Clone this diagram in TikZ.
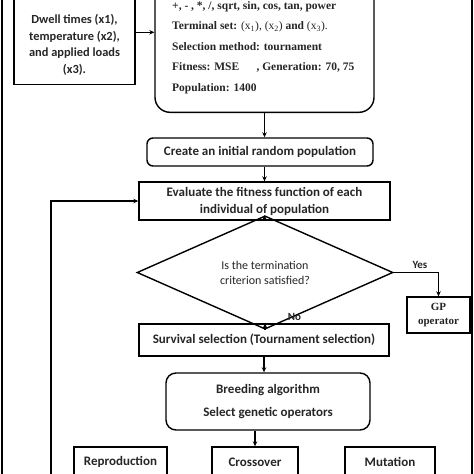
\documentclass[tikz,border=0pt]{standalone}
\usepackage{fontspec}
\setmainfont{Liberation Serif}
\newfontfamily\calfont{Carlito}
\usetikzlibrary{shapes.geometric,arrows.meta}
\begin{document}
\begin{tikzpicture}[x=1pt,y=-1pt,
  every node/.style={text=black!85},
  box/.style={draw=black, line width=1.4pt, inner sep=0pt, align=center,
    font=\calfont\bfseries\fontsize{13}{17}\selectfont},
  rbox/.style={box, rounded corners=6pt},
  sbox/.style={box, font=\bfseries\fontsize{11}{14.5}\selectfont},
  txt/.style={inner sep=0pt, align=center, font=\calfont\bfseries\fontsize{12.4}{16.5}\selectfont},
  arr/.style={draw=black, line width=1.2pt, -{Stealth[length=5pt,width=4.5pt]}},
  lbl/.style={inner sep=0pt, font=\calfont\bfseries\fontsize{11}{13}\selectfont}]
\useasboundingbox (0,0) rectangle (474,474);
\clip (0,0) rectangle (474,474);
\fill[white] (0,0) rectangle (474,474);
% outer frame
\draw[line width=2.5pt] (2,-20) rectangle (472,500);
% input box
\node[box, minimum width=121pt, minimum height=150pt, anchor=south] (dwell) at (74.5,85) {};
\node[txt] (dwelltxt) at (74.5,45) {Dwell times (x1),\\temperature (x2),\\and applied loads\\(x3).};
% parameter box
\node[box, rounded corners=15pt, minimum width=219pt, minimum height=160pt, anchor=south] (big) at (264.5,113) {};
\node[anchor=north west, align=left, inner sep=0pt, font=\bfseries\fontsize{11.5}{20.5}\selectfont] (bigtxt) at (172,1)
  {+, - , *, /, sqrt, sin, cos, tan, power\\
   Terminal set: {\mdseries (x\textsubscript{1}), (x\textsubscript{2})} and {\mdseries (x\textsubscript{3}).}\\
   Selection method: tournament\\
   Fitness: MSE \quad\ , Generation: 70, 75\\
   Population: 1400};
% flow boxes
\node[rbox, minimum width=226pt, minimum height=28pt] (create) at (260,152) {Create an initial random population};
\node[box, minimum width=251pt, minimum height=38pt] (eval) at (264.5,201) {Evaluate the fitness function of each\\individual of population};
\node[draw=black, line width=1.4pt, shape=diamond, minimum width=256pt, minimum height=71pt, inner sep=0pt,
  align=center, font=\calfont\fontsize{12}{15}\selectfont] (dec) at (265,272.5) {Is the termination\\criterion satisfied?};
\node[sbox, minimum width=63pt, minimum height=36pt] (gp) at (438.5,315) {GP\\operator};
\node[box, minimum width=250pt, minimum height=32pt] (surv) at (264,340) {Survival selection (Tournament selection)};
\node[box, rounded corners=10pt, minimum width=204pt, minimum height=57pt, font=\calfont\bfseries\fontsize{13}{23.5}\selectfont] (breed) at (268,401.5) {Breeding algorithm\\Select genetic operators};
\node[box, minimum width=93pt, minimum height=30pt] (repro) at (120.5,462) {Reproduction};
\node[box, minimum width=86pt, minimum height=30pt] (cross) at (255,462) {Crossover};
\node[box, minimum width=90pt, minimum height=30pt] (mut) at (390,462) {Mutation};
% labels
\node[lbl] (nolbl) at (294.5,317) {No};
\node[lbl] (yeslbl) at (420,265) {Yes};
% connectors
\draw[arr] (dwell.east |- big.west) -- (big.west);
\draw[arr] (big.south) -- (big.south |- create.north);
\draw[arr] (big.south |- create.south) -- (big.south |- eval.north);
\draw[arr] (eval.south) -- (eval.south |- dec.north);
\draw[arr] (dec.south) -- (dec.south |- surv.north);
\draw[arr] (dec.east) -- (gp.north |- dec.east) -- (gp.north);
\draw[arr] (surv.south) -- (surv.south |- breed.north);
\draw[arr] (breed.south -| cross.north) -- (cross.north);
\coordinate (loop) at (51,500);
\draw[arr] (loop) -- (loop |- eval.west) -- (eval.west);
\end{tikzpicture}
\end{document}
